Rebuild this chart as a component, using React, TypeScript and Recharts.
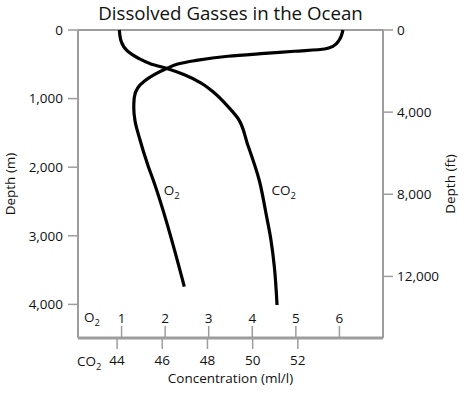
import { LineChart, Line, XAxis, YAxis, ReferenceLine, ReferenceDot, Label } from 'recharts';

const depthTicks = [0, 1000, 2000, 3000, 4000];
const feetTicks = [0, 4000, 8000, 12000];
const o2Ticks = [1, 2, 3, 4, 5, 6];
const co2Ticks = [44, 46, 48, 50, 52];

// O2 profile (ml/l) against depth (m)
const o2Depth = [0, 141, 238, 277, 310, 345, 383, 448, 496, 554, 652, 748, 845, 991, 1137, 1331, 1574, 1964, 2230, 3742];
const o2Values = [6.08, 6.0, 5.85, 5.66, 4.97, 4.2, 3.44, 2.67, 2.29, 2.06, 1.75, 1.52, 1.37, 1.29, 1.28, 1.31, 1.41, 1.6, 1.75, 2.44];

// CO2 profile (ml/l) against depth (m)
const co2Depth = [0, 165, 310, 408, 496, 564, 652, 773, 918, 1112, 1283, 1672, 2201, 2672, 3061, 3450, 4009];
const co2Values = [44.1, 44.18, 44.47, 44.92, 45.5, 46.24, 46.98, 47.72, 48.31, 48.9, 49.34, 49.78, 50.3, 50.59, 50.81, 50.96, 51.08];

const o2Data = o2Depth.map((depth, i) => ({ depth, o2: o2Values[i] }));
const co2Data = co2Depth.map((depth, i) => ({ depth, co2: co2Values[i] }));
// chart-level rows so the feet axis (no series of its own) gets a domain
const feetData = feetTicks.map((ft) => ({ ft }));

const FONT = '"Open Sans", "Noto Sans", sans-serif';
const GRAY = '#9d9d9d';
const TEXT = '#111';
const FS = 13.5;
const fmt = (v: number) => v.toLocaleString('en-US');
const tickStyle = { fontSize: FS, fill: TEXT };

function Gas({ x, y, prefix, anchor = 'start' }: { x: number; y: number; prefix: string; anchor?: string }) {
  return (
    <text x={x} y={y} textAnchor={anchor} fontSize={FS} fill={TEXT}>
      {prefix}
      <tspan dy={4} fontSize={9.5}>2</tspan>
    </text>
  );
}

function VerticalTitle({ x, y, text }: { x: number; y: number; text: string }) {
  return (
    <text x={x} y={y} transform={`rotate(-90 ${x} ${y})`} textAnchor="middle" fontSize={FS} fill={TEXT}>
      {text}
    </text>
  );
}

export default function App() {
  return (
    <div style={{ position: 'absolute', left: 0, top: 0, width: 465, height: 393, fontFamily: FONT, background: '#fff' }}>
      <div
        style={{
          position: 'absolute',
          top: 0,
          left: 0,
          width: 461,
          textAlign: 'center',
          fontSize: 18.7,
          color: TEXT,
        }}
      >
        Dissolved Gasses in the Ocean
      </div>
      <LineChart
        width={465}
        height={393}
        layout="vertical"
        data={feetData}
        margin={{ top: 30, right: 0, bottom: 0, left: 0 }}
      >
        <XAxis
          xAxisId="o2"
          type="number"
          domain={[0, 7]}
          ticks={o2Ticks}
          mirror
          axisLine={false}
          tickLine={{ stroke: GRAY, strokeWidth: 1.5 }}
          tickSize={12}
          tickMargin={3}
          tick={tickStyle}
        />
        <XAxis
          xAxisId="co2"
          type="number"
          domain={[42.27, 55.77]}
          ticks={co2Ticks}
          height={55}
          axisLine={{ stroke: GRAY, strokeWidth: 3 }}
          tickLine={{ stroke: GRAY, strokeWidth: 1.5 }}
          tickSize={11}
          tickMargin={6}
          tick={tickStyle}
        >
          <Label
            content={({ viewBox }: any) => (
              <g>
                <Gas x={viewBox.x + 6} y={viewBox.y - 16} prefix="O" />
                <Gas x={viewBox.x - 1} y={viewBox.y + 28} prefix="CO" />
                <text x={viewBox.x + viewBox.width / 2} y={viewBox.y + 45} textAnchor="middle" fontSize={FS} fill={TEXT}>
                  Concentration (ml/l)
                </text>
              </g>
            )}
          />
        </XAxis>
        <YAxis
          yAxisId="m"
          type="number"
          dataKey="depth"
          domain={[0, 4490]}
          ticks={depthTicks}
          tickFormatter={fmt}
          width={78}
          axisLine={{ stroke: GRAY, strokeWidth: 2 }}
          tickLine={{ stroke: GRAY, strokeWidth: 1.5 }}
          tickSize={10}
          tickMargin={5}
          tick={tickStyle}
        >
          <Label
            content={({ viewBox }: any) => (
              <VerticalTitle x={viewBox.x + 15} y={viewBox.y + viewBox.height / 2} text="Depth (m)" />
            )}
          />
        </YAxis>
        <YAxis
          yAxisId="ft"
          orientation="right"
          type="number"
          dataKey="ft"
          domain={[0, 15000]}
          allowDataOverflow
          ticks={feetTicks}
          tickFormatter={fmt}
          width={82}
          axisLine={{ stroke: GRAY, strokeWidth: 2 }}
          tickLine={{ stroke: GRAY, strokeWidth: 1.5 }}
          tickSize={10}
          tickMargin={4}
          tick={tickStyle}
        >
          <Label
            content={({ viewBox }: any) => (
              <VerticalTitle x={viewBox.x + 72} y={viewBox.y + viewBox.height / 2} text="Depth (ft)" />
            )}
          />
        </YAxis>
        <ReferenceLine xAxisId="o2" yAxisId="m" y={0} stroke={GRAY} strokeWidth={2} />
        <Line
          xAxisId="o2"
          yAxisId="m"
          data={o2Data}
          dataKey="o2"
          type="monotone"
          stroke="#000"
          strokeWidth={3.2}
          dot={false}
          isAnimationActive={false}
        />
        <Line
          xAxisId="co2"
          yAxisId="m"
          data={co2Data}
          dataKey="co2"
          type="monotone"
          stroke="#000"
          strokeWidth={3.2}
          dot={false}
          isAnimationActive={false}
        />
        <ReferenceDot
          xAxisId="o2"
          yAxisId="m"
          x={2.15}
          y={2332}
          r={0}
          fill="none"
          stroke="none"
          label={({ viewBox }: any) => <Gas x={viewBox.x} y={viewBox.y + 5} prefix="O" anchor="middle" />}
        />
        <ReferenceDot
          xAxisId="co2"
          yAxisId="m"
          x={51.38}
          y={2332}
          r={0}
          fill="none"
          stroke="none"
          label={({ viewBox }: any) => <Gas x={viewBox.x} y={viewBox.y + 5} prefix="CO" anchor="middle" />}
        />
      </LineChart>
    </div>
  );
}
